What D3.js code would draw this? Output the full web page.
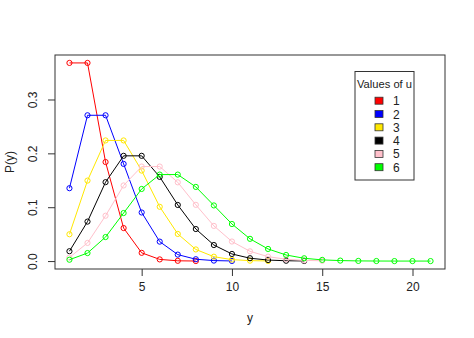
<!DOCTYPE html>
<html><head><meta charset="utf-8">
<script src="https://cdn.jsdelivr.net/npm/d3@7"></script>
<style>body{margin:0;background:#fff}svg{display:block}text{font-family:"Liberation Sans",Arial,sans-serif;fill:#222}</style>
</head><body><svg id="c" width="474" height="338"></svg>
<script>
const uValues = [1, 2, 3, 4, 5, 6];
const colors = ["#FF0000", "#0000FF", "#FFE800", "#000000", "#FFC0CB", "#00FF00"];
const p1 = [0.3679, 0.3679, 0.1839, 0.0613, 0.0153, 0.0031, 0.0005, 0.0001];
const p2 = [0.1353, 0.2707, 0.2707, 0.1804, 0.0902, 0.0361, 0.0120, 0.0034, 0.0009, 0.0002];
const p3 = [0.0498, 0.1494, 0.2240, 0.2240, 0.1680, 0.1008, 0.0504, 0.0216, 0.0081, 0.0027, 0.0008, 0.0002];
const p4 = [0.0183, 0.0733, 0.1465, 0.1954, 0.1954, 0.1563, 0.1042, 0.0595, 0.0298, 0.0132, 0.0053, 0.0019, 0.0006, 0.0002];
const p5 = [0.0067, 0.0337, 0.0842, 0.1404, 0.1755, 0.1755, 0.1462, 0.1044, 0.0653, 0.0363, 0.0181, 0.0082, 0.0034, 0.0013, 0.0005];
const p6 = [0.0025, 0.0149, 0.0446, 0.0892, 0.1339, 0.1606, 0.1606, 0.1377, 0.1033, 0.0688, 0.0413, 0.0225, 0.0113, 0.0052, 0.0022, 0.0009, 0.0003, 0.0001, 0.0000, 0.0000, 0.0000];
const series = [p1, p2, p3, p4, p5, p6];
const xTicks = [5, 10, 15, 20];
const yTicks = [0.0, 0.1, 0.2, 0.3];

const L = 55, R = 445, T = 55, B = 269;
const svg = d3.select("#c");
const x = d3.scaleLinear().domain([0.2, 21.8]).range([L, R]);
const ymax = 0.3679, ymin = 0;
const pad = (ymax - ymin) * 0.04;
const y = d3.scaleLinear().domain([ymin - pad, ymax + pad]).range([B, T]);

// axes
const xa = svg.append("g").attr("transform", `translate(0,${B})`)
  .call(d3.axisBottom(x).tickValues(xTicks).tickSize(7).tickPadding(6).tickFormat(d3.format("d")));
xa.select(".domain").remove();
xa.selectAll("text").attr("font-size", 12).attr("fill", "#222");
xa.selectAll("line").attr("stroke", "#333");
const ya = svg.append("g").attr("transform", `translate(${L},0)`)
  .call(d3.axisLeft(y).tickValues(yTicks).tickSize(7).tickPadding(0).tickFormat(d3.format(".1f")));
ya.select(".domain").remove();
ya.selectAll("line").attr("stroke", "#333");
ya.selectAll("text").attr("font-size", 12).attr("fill", "#222")
  .attr("text-anchor", "middle").attr("dy", null)
  .attr("transform", "translate(-21,0) rotate(-90)")
  .attr("x", 0).attr("y", 0).attr("dominant-baseline", "middle");

svg.append("rect").attr("x", L).attr("y", T).attr("width", R - L).attr("height", B - T)
  .attr("fill", "none").attr("stroke", "#333").attr("stroke-width", 1);

// lines & points
const line = d3.line().x((d, i) => x(i + 1)).y(d => y(d));
series.forEach((s, k) => {
  const g = svg.append("g");
  g.append("path").datum(s).attr("d", line).attr("fill", "none")
    .attr("stroke", colors[k]).attr("stroke-width", 1);
  g.selectAll("circle").data(s).join("circle")
    .attr("cx", (d, i) => x(i + 1)).attr("cy", d => y(d)).attr("r", 2.6)
    .attr("fill", "none").attr("stroke", colors[k]).attr("stroke-width", 1);
});

// labels
svg.append("text").attr("x", 250).attr("y", 322).attr("text-anchor", "middle").attr("font-size", 12).text("y");
svg.append("text").attr("transform", "translate(14,162) rotate(-90)").attr("text-anchor", "middle").attr("font-size", 12).text("P(y)");

// legend
const lg = svg.append("g");
lg.append("rect").attr("x", 355).attr("y", 71.5).attr("width", 59).attr("height", 108.5)
  .attr("fill", "#fff").attr("stroke", "#333");
lg.append("text").attr("x", 384.5).attr("y", 88).attr("text-anchor", "middle").attr("font-size", 11)
  .attr("textLength", 55).attr("lengthAdjust", "spacingAndGlyphs").text("Values of u");
uValues.forEach((u, k) => {
  const cy = 100.7 + k * 13.3;
  lg.append("rect").attr("x", 375).attr("y", cy - 3.5).attr("width", 8).attr("height", 7)
    .attr("fill", colors[k]).attr("stroke", "#333").attr("stroke-width", 0.8);
  lg.append("text").attr("x", 393).attr("y", cy + 4.5).attr("font-size", 12).text(u);
});
</script></body></html>
